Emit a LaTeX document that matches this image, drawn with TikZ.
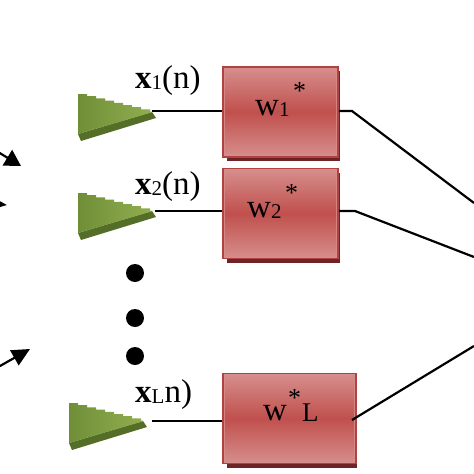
\documentclass[tikz,border=0pt]{standalone}
\usepackage{fontspec}
\setmainfont{Liberation Serif}
\usetikzlibrary{arrows.meta,positioning,calc}
\definecolor{boxred}{RGB}{192,80,77}
\definecolor{boxlight}{RGB}{214,143,141}
\definecolor{boxedge}{RGB}{176,66,66}
\definecolor{boxshade}{RGB}{110,35,38}
\definecolor{tridark}{RGB}{84,110,40}
\definecolor{trilight}{RGB}{145,175,80}
\definecolor{trimid}{RGB}{112,142,55}
\newcommand{\lowtxt}[1]{\raisebox{-1.5pt}{\fontsize{21}{21}\selectfont #1}}
\tikzset{
  weightbox/.style={rectangle,draw=boxedge,line width=1.5pt,minimum width=#1,minimum height=90pt,inner sep=0pt,
    top color=boxlight,bottom color=boxlight,middle color=boxred},
  boxrim/.style={draw=boxlight,line width=0.9pt,opacity=0.8},
  wire/.style={line width=2.2pt,black},
  inlab/.style={font=\fontsize{33}{33}\selectfont,inner sep=0pt},
  wlab/.style={font=\fontsize{33}{33}\selectfont,inner sep=0pt},
  sublab/.style={font=\fontsize{27}{27}\selectfont,inner sep=0pt},
  starlab/.style={font=\fontsize{26}{26}\selectfont,inner sep=0pt},
  dotmark/.style={circle,fill=black,minimum size=18pt,inner sep=0pt},
  arrowline/.style={line width=2.2pt,line cap=round}
}
\begin{document}
\begin{tikzpicture}[x=1pt,y=-1pt]
  \useasboundingbox (0,0) rectangle (474,474);
  % input triangles
  \foreach \tx/\ty in {78/94,78/193,69/403}{
    \fill[tridark] (\tx+3,\ty+47) -- (\tx+78,\ty+24) -- (\tx+74,\ty+18) -- (\tx,\ty+40) -- cycle;
    \shade[left color=trimid,right color=trilight] (\tx,\ty)
      \foreach \s in {1,...,8} { -- ++(9,0) -- ++(0,2.2) } -- (\tx+75,\ty+18) -- (\tx,\ty+40) -- cycle;
  }
  % weight boxes
  \fill[boxshade] (227,71) rectangle (340,161);
  \fill[boxshade] (227,173) rectangle (340,263);
  \fill[boxshade] (227,377) rectangle (357,468);
  \node[weightbox=115pt] (wone) at (280.5,112) {};
  \node[weightbox=115pt] (wtwo) at (280.5,213.5) {};
  \node[weightbox=133pt] (wlast) at (289.5,418.5) {};
  \foreach \nm in {wone,wtwo,wlast}
    \draw[boxrim] ($(\nm.north west)+(2.2,2.2)$) rectangle ($(\nm.south east)+(-2.2,-2.2)$);
  \node[inlab,anchor=base west] (xone) at (135,88) {\textbf{x}\lowtxt{1}(n)};
  \node[inlab,anchor=base west] (xtwo) at (135,194) {\textbf{x}\lowtxt{2}(n)};
  \node[inlab,anchor=base west] (xlast) at (135,402) {\textbf{x}\lowtxt{L}n)};
  \node[wlab,anchor=base west] (wonelab) at (255,115) {w\lowtxt{1}};
  \node[wlab,anchor=base west] (wtwolab) at (247,217) {w\lowtxt{2}};
  \node[wlab,anchor=base west] (wlastlab) at (263,420) {w};
  \node[sublab,anchor=base west] (wlastsub) at (302,421) {L};
  \node[starlab,anchor=base] (sone) at (299.5,99) {*};
  \node[starlab,anchor=base] (stwo) at (291.5,201.5) {*};
  \node[starlab,anchor=base] (slast) at (294.5,406) {*};
  \foreach \cy/\nm in {273/da,318/db,356/dc}
    \node[dotmark] (\nm) at (135,\cy) {};
  % connectors
  \coordinate (ina) at (152,111);
  \coordinate (inb) at (155,211);
  \coordinate (inc) at (152,421);
  \coordinate (outa) at (352,111);
  \coordinate (outb) at (355,211);
  \coordinate (outc) at (352,420);
  \coordinate (enda) at (474,203);
  \coordinate (endb) at (474,257);
  \coordinate (endc) at (474,346);
  \draw[wire] (ina) -- (ina -| wone.west);
  \draw[wire] (inb) -- (inb -| wtwo.west);
  \draw[wire] (inc) -- (inc -| wlast.west);
  \draw[wire] (outa -| wone.east) -- (outa) -- (enda);
  \draw[wire] (outb -| wtwo.east) -- (outb) -- (endb);
  \draw[wire] (outc) -- (endc);
  % arrows at the left edge
  \coordinate (pa) at (-2,152);
  \coordinate (qa) at (21,166);
  \coordinate (pb) at (-12,203);
  \coordinate (qb) at (7,205);
  \coordinate (pc) at (0,366);
  \coordinate (qc) at (30,349);
  \draw[-{Triangle[length=16pt,width=18pt]},arrowline] (pa) -- (qa);
  \draw[-{Triangle[length=14pt,width=11pt]},arrowline] (pb) -- (qb);
  \draw[-{Triangle[length=18pt,width=17pt]},arrowline] (pc) -- (qc);
\end{tikzpicture}
\end{document}
